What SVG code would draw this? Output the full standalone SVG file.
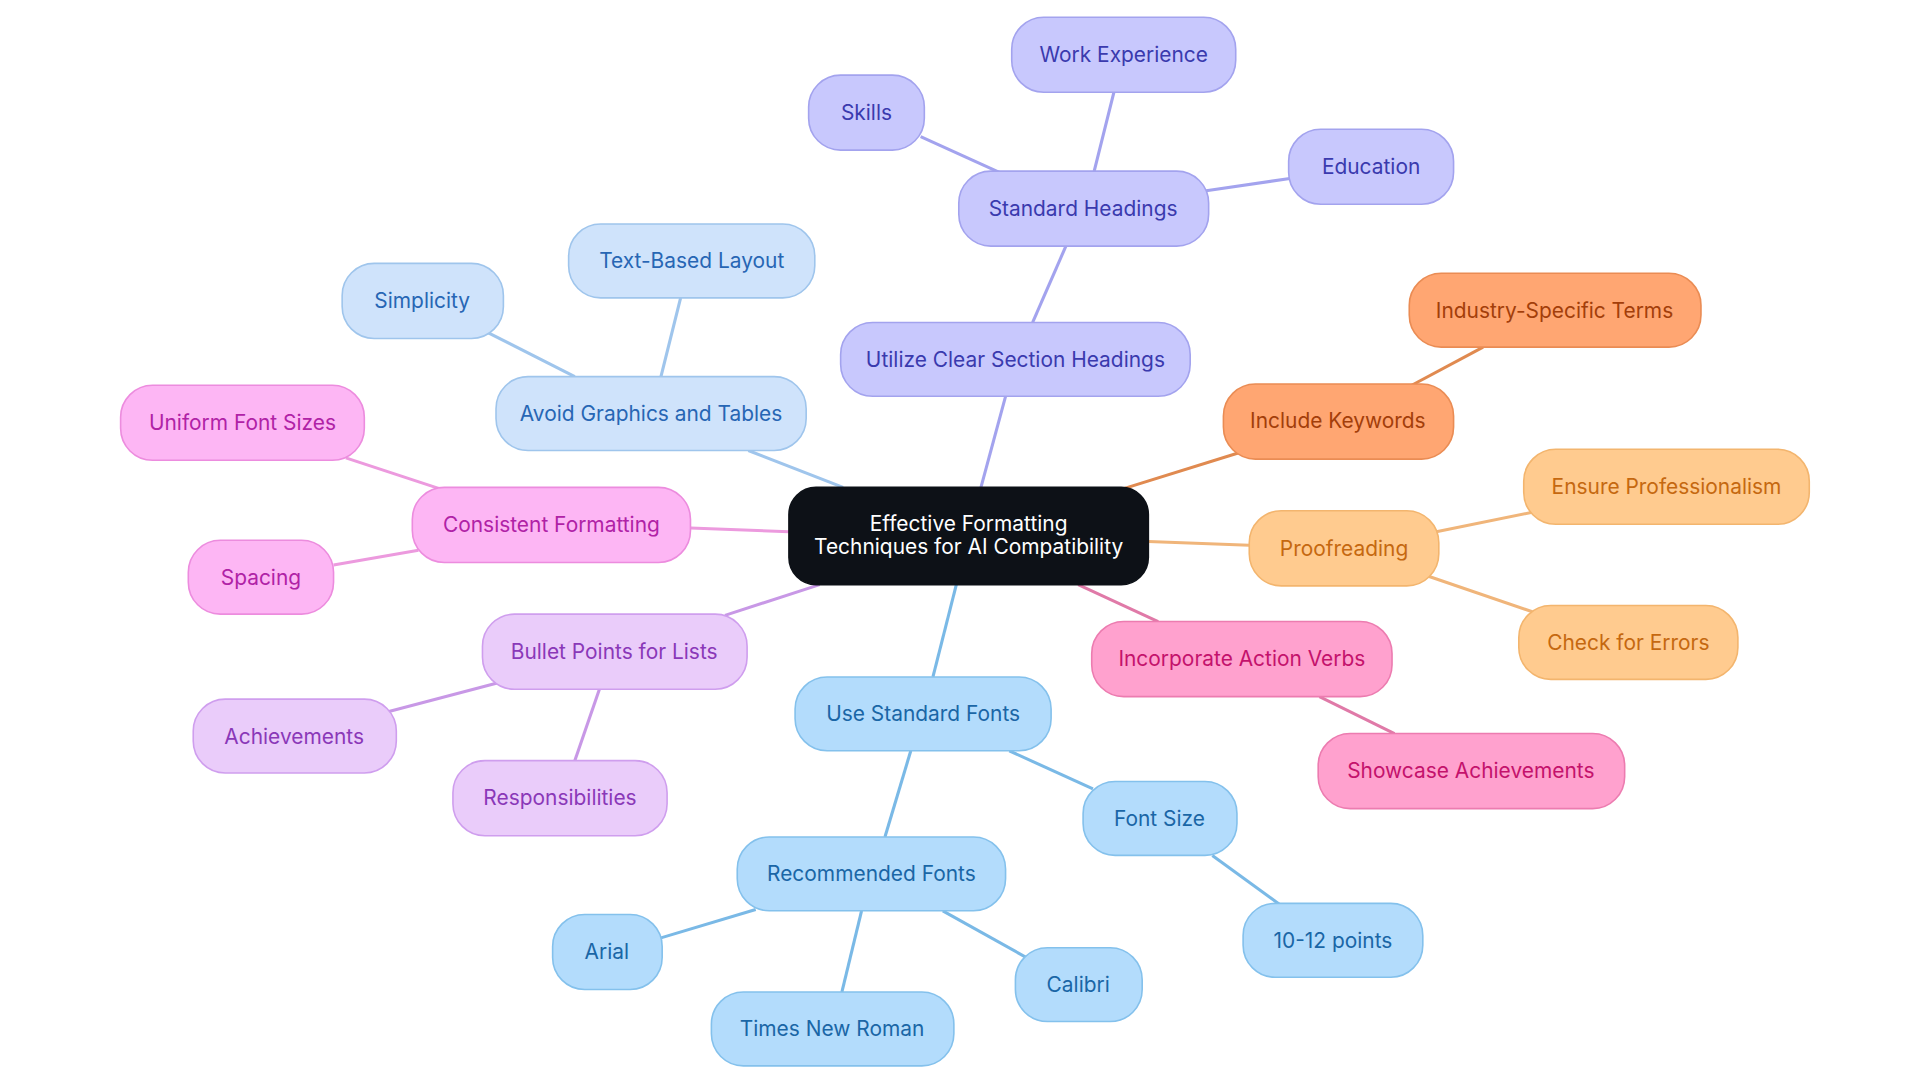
<svg xmlns="http://www.w3.org/2000/svg" width="1920" height="1083" viewBox="0 0 1920 1083">
<style>
text{font-family:Inter,"Noto Sans",sans-serif;font-size:17px;text-anchor:middle;dominant-baseline:central}
rect{stroke-width:1.3}
.e line{stroke-width:2.5;fill:none}
.pu rect{fill:#c8c8fd;stroke:#a3a3ee}.pu text{fill:#3a3aae}
.lb rect{fill:#cfe3fb;stroke:#9fc5ec}.lb text{fill:#2766b4}
.pk rect{fill:#fdb6f4;stroke:#ec8cde}.pk text{fill:#b022a6}
.lv rect{fill:#eaccfa;stroke:#cf9eee}.lv text{fill:#8a38b8}
.bl rect{fill:#b3dcfc;stroke:#84c1ec}.bl text{fill:#1a66a6}
.or rect{fill:#ffa672;stroke:#ea8c54}.or text{fill:#a33e0a}
.lo rect{fill:#ffcb8f;stroke:#f3b56e}.lo text{fill:#c56810}
.hp rect{fill:#ffa1ce;stroke:#ec7cb0}.hp text{fill:#c4126c}
</style>
<rect width="1920" height="1083" fill="#fff"/>
<g transform="scale(1.2308)">
<g class="e" id="connectors">
<g stroke="#a3a3ee"><line x1="797" y1="396" x2="817" y2="322"/><line x1="839" y1="262" x2="866" y2="200"/><line x1="812" y1="140" x2="748" y2="111"/><line x1="889" y1="139" x2="905" y2="75"/><line x1="980" y1="155" x2="1048" y2="145"/></g>
<g stroke="#9fc5ec"><line x1="685" y1="396" x2="608" y2="366"/><line x1="467" y1="306" x2="396" y2="270"/><line x1="537" y1="306" x2="553" y2="242"/></g>
<g stroke="#ec9ade"><line x1="641" y1="432" x2="561" y2="429"/><line x1="357" y1="397" x2="281" y2="372"/><line x1="340" y1="447" x2="271" y2="459"/></g>
<g stroke="#c898e6"><line x1="666" y1="475" x2="589" y2="500"/><line x1="404" y1="555" x2="316" y2="578"/><line x1="487" y1="560" x2="467" y2="618"/></g>
<g stroke="#7ab9e6"><line x1="777" y1="475" x2="758" y2="550"/><line x1="820" y1="610" x2="888" y2="641"/><line x1="985" y1="695" x2="1040" y2="735"/><line x1="740" y1="610" x2="719" y2="680"/><line x1="614" y1="739" x2="537" y2="762"/><line x1="700" y1="740" x2="684" y2="806"/><line x1="766" y1="740" x2="834" y2="778"/></g>
<g stroke="#e08a50"><line x1="913" y1="397" x2="1006" y2="368"/><line x1="1147" y1="313" x2="1205" y2="282"/></g>
<g stroke="#f0b57a"><line x1="933" y1="440" x2="1015" y2="443"/><line x1="1167" y1="432" x2="1246" y2="416"/><line x1="1160" y1="468" x2="1245" y2="497"/></g>
<g stroke="#e07aa8"><line x1="876" y1="475" x2="941" y2="505"/><line x1="1072" y1="566" x2="1133" y2="596"/></g>
</g>
<g id="center"><rect x="641" y="396" width="292" height="79" rx="22" fill="#0d1117" stroke="#0d1117"/><text x="787" y="425" fill="#fff">Effective Formatting</text><text x="787" y="444" fill="#fff">Techniques for AI Compatibility</text></g>
<g id="work" class="pu"><rect x="822" y="14" width="182" height="61" rx="26"/><text x="913" y="44">Work Experience</text></g>
<g id="skills" class="pu"><rect x="657" y="61" width="94" height="61" rx="26"/><text x="704" y="91">Skills</text></g>
<g id="education" class="pu"><rect x="1047" y="105" width="134" height="61" rx="26"/><text x="1114" y="135">Education</text></g>
<g id="standard" class="pu"><rect x="779" y="139" width="203" height="61" rx="26"/><text x="880" y="169">Standard Headings</text></g>
<g id="utilize" class="pu"><rect x="683" y="262" width="284" height="60" rx="26"/><text x="825" y="292">Utilize Clear Section Headings</text></g>
<g id="textbased" class="lb"><rect x="462" y="182" width="200" height="60" rx="26"/><text x="562" y="212">Text-Based Layout</text></g>
<g id="simplicity" class="lb"><rect x="278" y="214" width="131" height="61" rx="26"/><text x="343" y="244">Simplicity</text></g>
<g id="avoid" class="lb"><rect x="403" y="306" width="252" height="60" rx="26"/><text x="529" y="336">Avoid Graphics and Tables</text></g>
<g id="uniform" class="pk"><rect x="98" y="313" width="198" height="61" rx="26"/><text x="197" y="343">Uniform Font Sizes</text></g>
<g id="consistent" class="pk"><rect x="335" y="396" width="226" height="61" rx="26"/><text x="448" y="426">Consistent Formatting</text></g>
<g id="spacing" class="pk"><rect x="153" y="439" width="118" height="60" rx="26"/><text x="212" y="469">Spacing</text></g>
<g id="bullet" class="lv"><rect x="392" y="499" width="215" height="61" rx="26"/><text x="499" y="529">Bullet Points for Lists</text></g>
<g id="achievements" class="lv"><rect x="157" y="568" width="165" height="60" rx="26"/><text x="239" y="598">Achievements</text></g>
<g id="resp" class="lv"><rect x="368" y="618" width="174" height="61" rx="26"/><text x="455" y="648">Responsibilities</text></g>
<g id="usefonts" class="bl"><rect x="646" y="550" width="208" height="60" rx="26"/><text x="750" y="580">Use Standard Fonts</text></g>
<g id="fontsize" class="bl"><rect x="880" y="635" width="125" height="60" rx="26"/><text x="942" y="665">Font Size</text></g>
<g id="points" class="bl"><rect x="1010" y="734" width="146" height="60" rx="26"/><text x="1083" y="764">10-12 points</text></g>
<g id="recommended" class="bl"><rect x="599" y="680" width="218" height="60" rx="26"/><text x="708" y="710">Recommended Fonts</text></g>
<g id="arial" class="bl"><rect x="449" y="743" width="89" height="61" rx="26"/><text x="493" y="773">Arial</text></g>
<g id="times" class="bl"><rect x="578" y="806" width="197" height="60" rx="26"/><text x="676" y="836">Times New Roman</text></g>
<g id="calibri" class="bl"><rect x="825" y="770" width="103" height="60" rx="26"/><text x="876" y="800">Calibri</text></g>
<g id="industry" class="or"><rect x="1145" y="222" width="237" height="60" rx="26"/><text x="1263" y="252">Industry-Specific Terms</text></g>
<g id="keywords" class="or"><rect x="994" y="312" width="187" height="61" rx="26"/><text x="1087" y="342">Include Keywords</text></g>
<g id="ensure" class="lo"><rect x="1238" y="365" width="232" height="61" rx="26"/><text x="1354" y="395">Ensure Professionalism</text></g>
<g id="proof" class="lo"><rect x="1015" y="415" width="154" height="61" rx="26"/><text x="1092" y="446">Proofreading</text></g>
<g id="check" class="lo"><rect x="1234" y="492" width="178" height="60" rx="26"/><text x="1323" y="522">Check for Errors</text></g>
<g id="action" class="hp"><rect x="887" y="505" width="244" height="61" rx="26"/><text x="1009" y="535">Incorporate Action Verbs</text></g>
<g id="showcase" class="hp"><rect x="1071" y="596" width="249" height="61" rx="26"/><text x="1195" y="626">Showcase Achievements</text></g>
</g>
</svg>
